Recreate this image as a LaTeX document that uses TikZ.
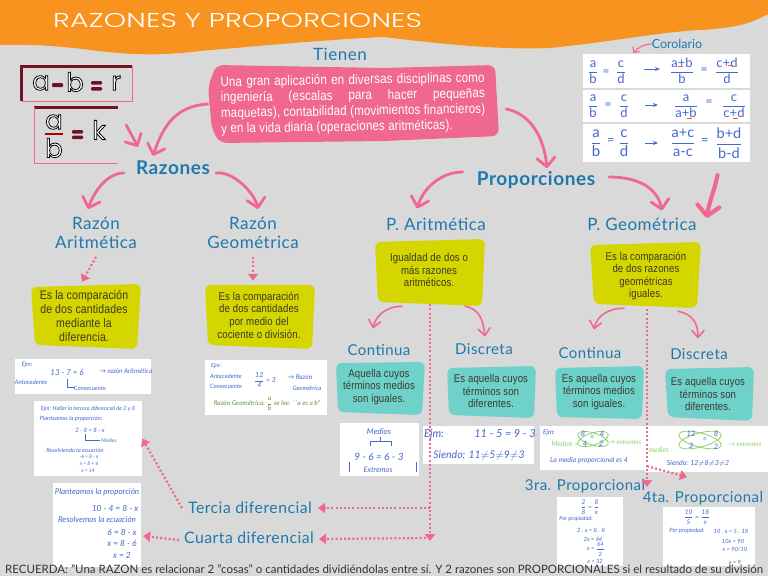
\documentclass[tikz,border=0pt]{standalone}
\usepackage{fontspec}
\usepackage{graphicx}
\usetikzlibrary{arrows.meta,calc}
\setmainfont{Lato}
\newfontfamily\headf[LetterSpace=3]{Lato}
\newfontfamily\titlef[FakeStretch=1.42,LetterSpace=1]{Poppins Light}
\newfontfamily\narrowf[FakeStretch=.85,LetterSpace=1]{Liberation Sans}
\newfontfamily\handf{Lato}
\newfontfamily\shapef[FakeBold=3]{Poppins}
\definecolor{bgc}{HTML}{D9D9D9}
\definecolor{orangec}{HTML}{F7931E}
\definecolor{pinkc}{HTML}{F0688F}
\definecolor{headc}{HTML}{1F78AE}
\definecolor{yelc}{HTML}{D5D500}
\definecolor{tealc}{HTML}{6FD2CA}
\definecolor{inkc}{HTML}{3A3A2A}
\definecolor{hb}{HTML}{4468CC}
\definecolor{hg}{HTML}{8ED06A}
\definecolor{darkred}{HTML}{6E1424}
\newcounter{hwc}
\newcommand\hwt[5][hb]{\stepcounter{hwc}\node[handtxt,text=#1,font=\handf\itshape\fontsize{#4}{#4}\selectfont] (hw\arabic{hwc}) at (#2,#3) {#5};}
\newcommand\cor[5][hb]{\stepcounter{hwc}\node[handtxt,text=#1,font=\handf\fontsize{#4}{#4}\selectfont] (hw\arabic{hwc}) at (#2,#3) {#5};}
\newcommand\imgbox[5]{\node[imgbg,minimum width={#4-#2},minimum height={#5-#3}] (#1) at ({(#2+#4)/2},{(#3+#5)/2}) {};}
\newcommand\olt[1]{{\color{white}\special{pdf:code 0 0 0 RG}#1}}
\newcommand\ff[2]{$\displaystyle\frac{\mbox{#1}}{\mbox{#2}}$}
\newcommand\jl[1]{\hbox to 264pt{\spaceskip=.22em plus 1fil\relax #1}}
\tikzset{
  x=1pt,y=-1pt,
  heading/.style={text=headc,inner sep=0pt,align=center,font=\headf\fontsize{17}{19}\selectfont},
  subhead/.style={heading,font=\headf\fontsize{15}{17}\selectfont},
  yellowbox/.style={fill=yelc,rounded corners=6pt},
  tealbox/.style={fill=tealc,rounded corners=6pt},
  boxtxt/.style={inner sep=0pt,align=center,text=inkc,font=\narrowf\fontsize{11.3}{12.6}\selectfont},
  imgbg/.style={fill=white,inner sep=0pt,draw=none},
  handtxt/.style={inner sep=0pt,align=center},
  glyphtxt/.style={inner sep=0pt,font=\shapef\fontsize{26}{26}\selectfont},
  pkarrow/.style={draw=pinkc,line width=2.8pt,line cap=round,-{Straight Barb[length=9pt,width=18pt,round]}},
  smarrow/.style={draw=pinkc,line width=1.6pt,line cap=round,-{Straight Barb[length=7pt,width=12pt,round]}},
  tinyarrow/.style={draw=pinkc,line width=1.1pt,line cap=round,-{Straight Barb[length=4pt,width=8pt,round]}},
  bigarrow/.style={draw=pinkc,line width=4.2pt,line cap=round,-{Straight Barb[length=10pt,width=22pt,round]}},
  dotarrow/.style={draw=pinkc,line width=2.2pt,dash pattern=on 2pt off 2.2pt,-{Triangle[length=7pt,width=10pt]}},
  minihand/.style={draw=hb,line width=.7pt},
  redhand/.style={draw=red!70,line width=.7pt},
  greenhand/.style={draw=hg,line width=.8pt},
}
\begin{document}
\begin{tikzpicture}
\useasboundingbox (0,0) rectangle (768,576);
\fill[bgc] (0,0) rectangle (768,576);
% banner
\fill[orangec] (0,0) -- (768,0) -- (768,14) .. controls (750,24) and (735,28) .. (700,30)
  .. controls (660,32) and (610,42) .. (550,48) .. controls (500,50) and (440,44) .. (384,37)
  .. controls (320,40) and (260,46) .. (200,51) .. controls (160,56) and (130,55) .. (90,50)
  .. controls (60,46) and (30,44) .. (0,45) -- cycle;
\node[inner sep=0pt,text=white,anchor=west,font=\titlef\fontsize{20}{22}\selectfont] (title) at (53,20) {RAZONES Y PROPORCIONES};

% formula frames
\fill[darkred] (20,65) rectangle (132,68);
\fill[darkred] (20,65) rectangle (23,101);
\draw[pinkc,line width=.7pt] (132,66) -- (132,101) -- (22,101);
\node[glyphtxt] (fa) at (41,83) {\olt{a}};
\fill[darkred,rounded corners=1pt] (52,83) rectangle (63,87);
\node[glyphtxt] (fb) at (75,82) {\olt{b}};
\fill[darkred,rounded corners=1pt] (91,81) rectangle (102,84.5);
\fill[darkred,rounded corners=1pt] (91,87) rectangle (102,90.5);
\node[glyphtxt] (fr) at (116,83) {\olt{r}};

\node[inner sep=0pt,minimum width=84pt,minimum height=56pt] (i2) at (76,135) {};
\fill[darkred] (34,106) rectangle (118,108.5);
\draw[pinkc,line width=.7pt] (34,107) -- (34,163.5) -- (118,163.5);
\node[glyphtxt] (ga) at (54,122) {\olt{a}};
\fill[red!70!black] (45,132.5) rectangle (63,134.5);
\node[glyphtxt] (gb) at (54,148) {\olt{b}};
\fill[darkred,rounded corners=1pt] (72,130) rectangle (83,133.5);
\fill[darkred,rounded corners=1pt] (72,135.5) rectangle (83,139);
\node[glyphtxt] (gk) at (99,130) {\olt{k}};

% pink box
\fill[pinkc,rounded corners=7pt] (216,65) -- (384,68) -- (495,65) -- (499,136) -- (384,141) -- (220,143) -- (212,130) -- (208,87) -- cycle;
\node[inner sep=0pt,minimum width=290pt,minimum height=76pt,text=white,font=\narrowf\fontsize{13.6}{15.6}\selectfont] (tbox) at (353,104)
 {\rotatebox{0.9}{\parbox{264pt}{\jl{Una gran aplicación en diversas disciplinas como}\par\jl{ingeniería (escalas para hacer pequeñas}\par\jl{maquetas), contabilidad (movimientos financieros)}\par y en la vida diaria (operaciones aritméticas).}}};

% headings
\node[heading] (tienen) at (340,54) {Tienen};
\node[heading,font=\headf\bfseries\fontsize{19}{21}\selectfont] (razones) at (173,168) {Razones};
\node[heading,font=\headf\bfseries\fontsize{19}{21}\selectfont] (prop) at (536,180) {Proporciones};
\node[heading] (rarit) at (96,233) {Razón\\Aritmética};
\node[heading] (rgeo) at (253,233) {Razón\\Geométrica};
\node[heading] (parit) at (436,224) {P. Aritmética};
\node[heading] (pgeo) at (642,224) {P. Geométrica};
\node[subhead] (cont1) at (379,350) {Continua};
\node[subhead] (disc1) at (484,349) {Discreta};
\node[subhead] (cont2) at (590,353) {Continua};
\node[subhead] (disc2) at (699,354) {Discreta};
\node[subhead,font=\headf\fontsize{15.8}{17}\selectfont] (tercia) at (250,508) {Tercia diferencial};
\node[subhead,font=\headf\fontsize{15.8}{17}\selectfont] (cuarta) at (249,538) {Cuarta diferencial};
\node[subhead] (tercera) at (585,486) {3ra. Proporcional};
\node[subhead] (cuartap) at (703,498) {4ta. Proporcional};
\node[heading,font=\fontsize{12.5}{14}\selectfont] (corol) at (677,44) {Corolario};

% yellow boxes
\fill[yellowbox] (31,287) -- (141,284) -- (137,349) -- (35,345) -- cycle;
\fill[yellowbox] (205,285) -- (315,285) -- (312,349) -- (208,345) -- cycle;
\fill[yellowbox] (375,242) -- (485,239) -- (482,306) -- (378,302) -- cycle;
\fill[yellowbox] (590,245) -- (701,242) -- (697,308) -- (594,304) -- cycle;
\node[boxtxt,minimum width=110pt,minimum height=64pt,font=\narrowf\fontsize{12.4}{14.2}\selectfont] (ya) at (84,316) {Es la comparación\\de dos cantidades\\mediante la\\diferencia.};
\node[boxtxt,minimum width=110pt,minimum height=64pt] (yb) at (259,315) {Es la comparación\\de dos cantidades\\por medio del\\cociente o división.};
\node[boxtxt,minimum width=110pt,minimum height=68pt] (yc) at (429,270) {Igualdad de dos o\\más razones\\aritméticos.};
\node[boxtxt,minimum width=110pt,minimum height=66pt] (yd) at (646,276) {Es la comparación\\de dos razones\\geométricas\\iguales.};

% teal boxes
\fill[tealbox] (336,363) -- (425,362) -- (422,415) -- (338,412) -- cycle;
\fill[tealbox] (447,368) -- (536,366) -- (534,418) -- (449,415) -- cycle;
\fill[tealbox] (555,368) -- (644,366) -- (642,419) -- (557,417) -- cycle;
\fill[tealbox] (665,369) -- (754,367) -- (752,421) -- (668,417) -- cycle;
\node[boxtxt] (ta) at (379,387) {Aquella cuyos\\términos medios\\son iguales.};
\node[boxtxt] (tb) at (491,391) {Es aquella cuyos\\términos son\\diferentes.};
\node[boxtxt] (tc) at (599,392) {Es aquella cuyos\\términos medios\\son iguales.};
\node[boxtxt] (td) at (708,394) {Es aquella cuyos\\términos son\\diferentes.};

% white pictures
\imgbox{c1}{583}{54}{750}{88}
\imgbox{c2}{583}{90}{750}{122}
\imgbox{c3}{583}{124}{750}{162}
\imgbox{i4}{15}{359}{151}{394}
\imgbox{i5}{34}{401}{142}{476}
\imgbox{i6}{53}{483}{141}{567}
\imgbox{i7}{205}{360}{327}{415}
\imgbox{i8}{340}{423}{419}{476}
\imgbox{i9}{423}{426}{534}{464}
\imgbox{i10}{540}{426}{645}{470}
\imgbox{i11}{645}{426}{768}{472}
\imgbox{i12}{557}{497}{623}{566}
\imgbox{i13}{663}{507}{755}{566}

% corollary contents
\cor{593}{72}{13}{\ff{a}{b}}\cor{606}{73}{12}{=}\cor{621}{72}{13}{\ff{c}{d}}
\cor{682}{71}{13}{\ff{a+b}{b}}\cor{704}{71}{12}{=}\cor{727}{71}{13}{\ff{c+d}{d}}
\cor{593}{106}{13}{\ff{a}{b}}\cor{608}{106}{12}{=}\cor{624}{106}{13}{\ff{c}{d}}
\cor{686}{106}{13}{\ff{a}{a+b}}\cor{709}{103}{12}{=}\cor{734}{106}{13}{\ff{c}{c+d}}
\cor{596}{143}{15}{\ff{a}{b}}\cor{611}{142}{13}{=}\cor{624}{143}{15}{\ff{c}{d}}
\cor{683}{143}{14.5}{\ff{a+c}{a-c}}\cor{705}{142}{13}{=}\cor{729}{143}{14.5}{\ff{b+d}{b-d}}
\draw[redhand] (678,66) -- (683,66);
\draw[redhand] (728,65) -- (733,65);
\draw[redhand] (687,118) -- (692,118);
\draw[redhand] (733,118) -- (738,118);
\draw[minihand,-{Stealth[open,length=5pt,width=4pt]}] (644,69) -- (660,69);
\draw[minihand,-{Stealth[open,length=5pt,width=4pt]}] (645,105) -- (658,105);
\draw[minihand,-{Stealth[length=5pt,width=4pt]}] (645,143) -- (658,143);

% examples
\hwt{27}{365}{6}{Ejm:}
\hwt{31}{382}{6.2}{Antecedente}
\hwt{67}{373}{8}{13 - 7 = 6}
\hwt{126}{371}{6.5}{→ razón Aritmética}
\hwt{90}{388}{6}{Consecuente}
\draw[minihand] (67,379) -- (67,387) -- (75,387);

\hwt{88}{409}{5.6}{Ejm: Hallar la tercera diferencial de 2 y 8}
\hwt{71}{419}{5.8}{Planteamos la proporción:}
\hwt{90}{430}{6}{2 - 8 = 8 - x}
\hwt{109}{441}{5}{Medios}
\draw[minihand] (85,434) -- (85,440) -- (100,440);
\hwt{75}{450}{5.8}{Resolviendo la ecuación}
\hwt{89}{457}{5}{-6 = 8 - x}
\hwt{89}{463.5}{5}{x = 8 + 6}
\hwt{88}{471}{5}{x = 14}

\hwt{97}{492}{8}{Planteamos la proporción}
\hwt{115}{508}{8.5}{10 - 4 = 8 - x}
\hwt{97}{520}{8}{Resolvemos la ecuación}
\hwt{122}{532}{8.5}{6 = 8 - x}
\hwt{122}{543}{8.5}{x = 8 - 6}
\hwt{122}{555}{8.5}{x = 2}

\hwt{216}{366}{5.5}{Ejm:}
\hwt{226}{376}{6}{Antecedente}
\hwt{226}{386}{6}{Consecuente}
\hwt{265}{380}{7}{\ff{12}{4} = 3}
\hwt{300}{377}{6.5}{→ Razón}
\hwt{307}{388}{6}{Geométrica}
\hwt[hg!70!black]{267}{404}{6.5}{Razón Geométrica: \ff{a}{b} se lee: ``a es a b''}

\hwt{379}{432}{8}{Medios}
\draw[minihand] (370,446) -- (370,441) -- (391,441) -- (391,446);
\draw[minihand] (380,441) -- (380,437);
\hwt{379}{457}{10}{9 - 6 = 6 - 3}
\hwt{378}{470}{7.5}{Extremos}
\draw[minihand] (349,462) -- (349,472);
\draw[minihand] (416,462) -- (416,472);

\begin{scope}
\clip (423,426) rectangle (534,464);
\hwt{434}{434}{11}{Ejm:}
\hwt{505}{434}{11}{11 - 5 = 9 - 3}
\hwt{479}{456}{10.5}{Siendo: 11$\neq$5$\neq$9$\neq$3}
\end{scope}

\draw[greenhand,rotate around={18:(593,439)}] (593,439) ellipse (16 and 6);
\draw[greenhand,rotate around={-18:(593,439)}] (593,439) ellipse (16 and 6);
\hwt{549}{433}{6.5}{Ejm:}
\hwt{583}{434}{7.5}{8}\hwt{592}{438}{7.5}{=}\hwt{602}{434}{7.5}{4}
\hwt{585}{444}{7.5}{4}\hwt{601}{444}{7.5}{2}
\hwt[hg]{565}{444}{7}{Medios =}
\hwt[hg]{625}{442}{6.5}{→ extremos}
\hwt{589}{461}{7}{La media proporcional es 4}

\draw[greenhand,rotate around={15:(700,440)}] (700,440) ellipse (22 and 7);
\draw[greenhand,rotate around={-15:(700,440)}] (700,440) ellipse (22 and 7);
\hwt{691}{434}{7.5}{12}\hwt{705}{440}{7.5}{=}\hwt{716}{434}{7.5}{8}
\hwt{691}{446}{7.5}{3}\hwt{716}{447}{7.5}{2}
\hwt[hg]{661}{450}{7}{medios -}
\hwt[hg]{745}{444}{6.5}{→ extremos}
\hwt{698}{464}{7}{Siendo: 12$\neq$8$\neq$3$\neq$2}

\hwt{590}{507}{6.5}{\ff{2}{8} = \ff{8}{x}}
\hwt{576}{519}{5.5}{Por propiedad:}
\hwt{591}{530}{5.8}{2 . x = 8 . 8}
\hwt{593}{539}{5.8}{2x = 64}
\hwt{596}{549}{5.8}{x = \ff{64}{2}}
\hwt{595}{561}{5.8}{x = 32}

\hwt{697}{517}{6.5}{\ff{10}{5} = \ff{18}{x}}
\hwt{687}{531}{5.8}{Por propiedad:}
\hwt{731}{531}{5.8}{10 . x = 5 . 18}
\hwt{733}{541}{5.8}{10x = 90}
\hwt{735}{550}{5.8}{x = 90/10}
\hwt{735}{562}{5.8}{x = 9}

% solid arrows
\draw[pkarrow] (tbox.west) .. controls +(-32,2) and +(10,-30) .. ([shift={(-20,-5)}]razones.north);
\draw[pkarrow] ([shift={(8,-10)}]i2.east) -- ([shift={(-35,-14)}]razones.north);
\draw[pkarrow] ([shift={(8,5)}]tbox.east) .. controls +(25,5) and +(-3,-30) .. ([shift={(11,-3)}]prop.north);
\draw[pkarrow] ([shift={(-12,5)}]razones.west) .. controls +(-18,0) and +(5,-15) .. ([shift={(-8,-8)}]rarit.north);
\draw[pkarrow] ([shift={(6,5)}]razones.east) .. controls +(18,-2) and +(-3,-15) .. ([shift={(5,-8)}]rgeo.north);
\draw[pkarrow] ([shift={(-14,-8)}]prop.west) .. controls +(-22,0) and +(6,-20) .. ([shift={(-19,-9)}]parit.north);
\draw[pkarrow] ([shift={(14,-3)}]prop.east) .. controls +(25,0) and +(-5,-25) .. ([shift={(20,-7)}]pgeo.north);
\draw[bigarrow] ([shift={(51,13)}]c3.south) .. controls +(-3,15) and +(2,-15) .. ([shift={(10,-6)}]pgeo.east);
\draw[tinyarrow] (corol.west) .. controls +(-8,0) and +(3,-4) .. ([shift={(-33,-1)}]c1.north);
\draw[smarrow] ([shift={(-27,2)}]yc.south) .. controls +(-14,0) and +(3,-14) .. ([shift={(-6,-16)}]cont1.north);
\draw[smarrow] ([shift={(36,2)}]yc.south) .. controls +(15,3) and +(-2,-16) .. ([shift={(1,-7)}]disc1.north);
\draw[smarrow] ([shift={(-22,-1)}]yd.south) .. controls +(-15,0) and +(3,-14) .. ([shift={(4,-18)}]cont2.north);
\draw[smarrow] ([shift={(32,2)}]yd.south) .. controls +(14,3) and +(0,-16) .. ([shift={(-1,-10)}]disc2.north);

% dotted arrows
\coordinate (d3t) at ($(yc.south)+(1,0)$);
\coordinate (d3a) at (d3t |- tercia);
\coordinate (d3b) at (d3t |- cuarta);
\draw[dotarrow] ([shift={(0,8)}]rarit.south) -- ([shift={(-2,-2)}]ya.north);
\draw[dotarrow] ([shift={(0,8)}]rgeo.south) -- ([shift={(-6,-2)}]yb.north);
\draw[dotarrow] (d3t) -- ([shift={(0,3)}]d3b);
\draw[dotarrow] (d3a) -- ([shift={(6,0)}]tercia.east);
\draw[dotarrow] (d3b) -- ([shift={(5,1)}]cuarta.east);
\draw[dotarrow] ([shift={(-6,0)}]tercia.west) -- (i5.east);
\draw[dotarrow] ([shift={(-5,2)}]cuarta.west) -- ([shift={(2,11)}]i6.east);
\coordinate (d8t) at ($(yd.south)+(1,0)$);
\coordinate (d8a) at ($(d8t)+(0,157)$);
\draw[dotarrow] (d8t) -- ([shift={(0,-6)}]d8t |- tercera.south);
\draw[dotarrow] (d8a) -- ([shift={(-16,-14)}]cuartap.north);

% reminder
\node[inner sep=0pt,anchor=west,text=black!80,font=\fontsize{11.5}{13}\selectfont] (rec) at (5,569) {RECUERDA: "Una RAZON es relacionar 2 "cosas" o cantidades dividiéndolas entre sí. Y 2 razones son PROPORCIONALES si el resultado de su división};
\end{tikzpicture}
\end{document}
